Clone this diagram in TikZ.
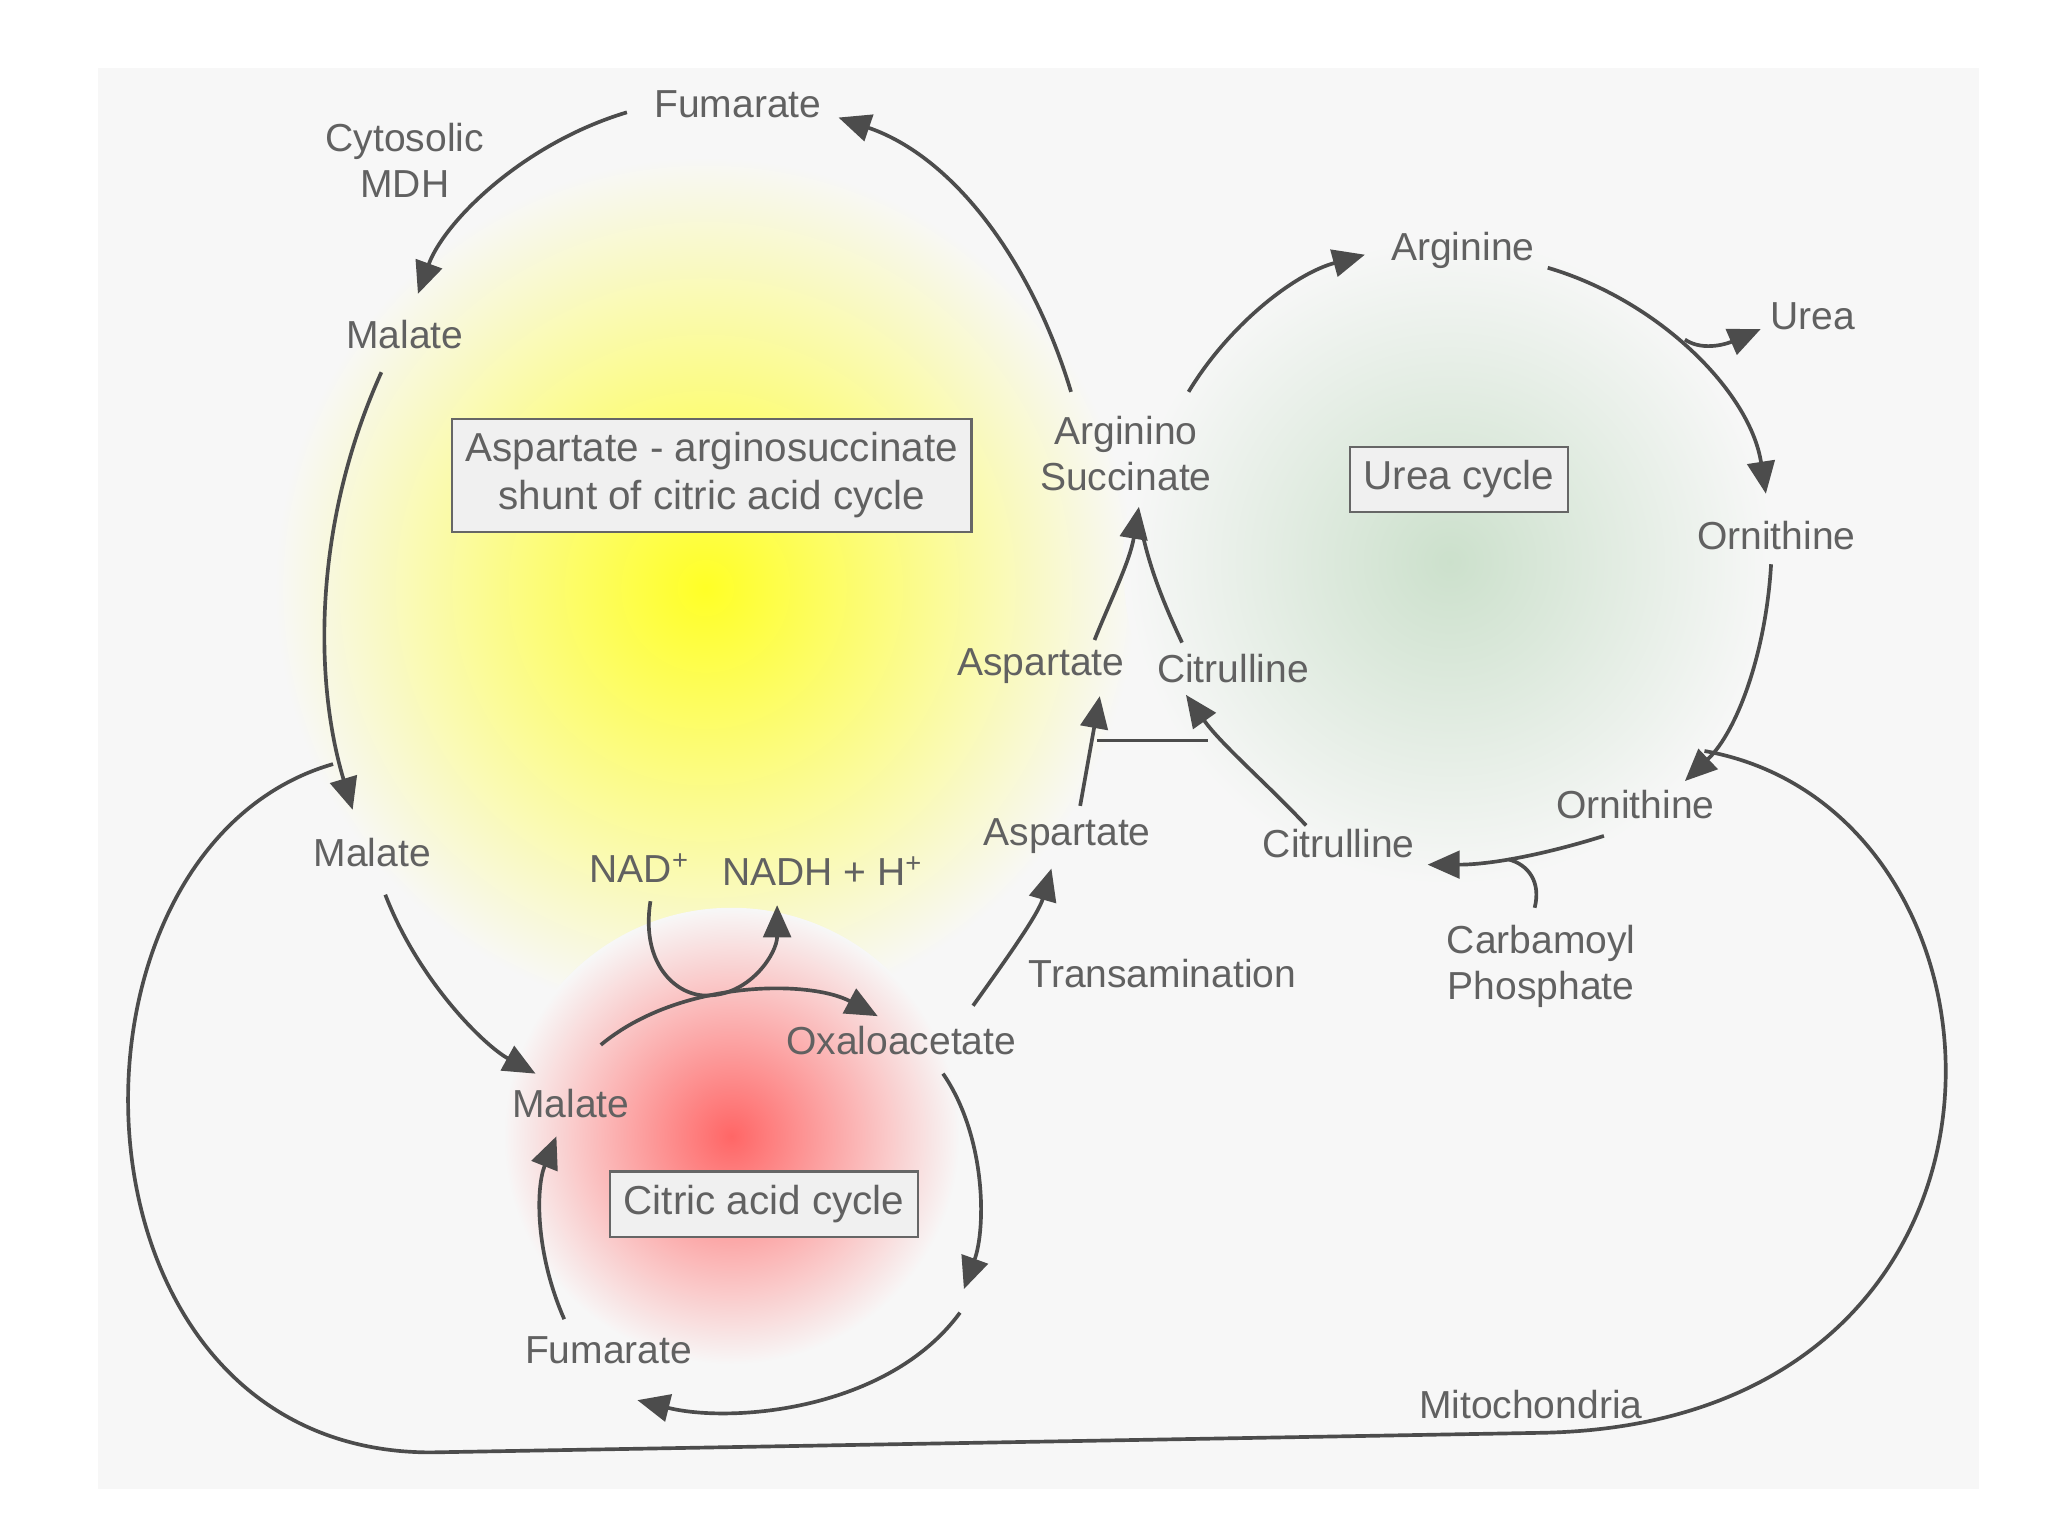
\documentclass[tikz,border=0pt]{standalone}
\usepackage{fontspec}
\setmainfont{Liberation Sans}
\usetikzlibrary{arrows.meta}
\begin{document}
\begin{tikzpicture}[x=0.01cm,y=-0.01cm,
  txt/.style={text=black!62,font=\fontsize{8.5}{10}\selectfont,align=center,inner sep=1pt},
  box/.style={txt,draw=black!60,fill=black!6,line width=0.5pt,inner sep=3pt,font=\fontsize{8.8}{10.5}\selectfont},
  ln/.style={draw=black!70,line width=0.8pt},
  ar/.style={ln,-{Triangle[length=7pt,width=6pt]}}]
\useasboundingbox (0,0) rectangle (1568,1176);
\fill[black!3] (75,52) rectangle (1515,1140);
\shade[inner color=yellow!85,outer color=black!3] (540,450) circle (330);
\shade[inner color=green!40!black!20,outer color=black!3] (1110,430) circle (250);
\shade[inner color=red!60,outer color=black!3] (560,870) circle (175);
% mitochondria
\draw[ln] (255,585) .. controls (30,650) and (40,1112) .. (330,1112) -- (1180,1097) .. controls (1580,1090) and (1560,620) .. (1305,575);
% nodes
\node[txt] (fum1) at (565,80) {Fumarate};
\node[txt] (mdh) at (310,123) {Cytosolic\\MDH};
\node[txt] (mal1) at (310,256) {Malate};
\node[txt] (mal2) at (285,653) {Malate};
\node[txt] (mal3) at (437,845) {Malate};
\node[txt] (as) at (862,347) {Arginino\\Succinate};
\node[txt] (arg) at (1120,192) {Arginine};
\node[txt] (urea) at (1388,242) {Urea};
\node[txt] (orn1) at (1360,410) {Ornithine};
\node[txt] (orn2) at (1252,616) {Ornithine};
\node[txt] (cit2) at (1025,646) {Citrulline};
\node[txt] (cp) at (1180,740) {Carbamoyl\\Phosphate};
\node[txt] (asp1) at (797,510) {Aspartate};
\node[txt] (cit1) at (944,512) {Citrulline};
\node[txt] (asp2) at (817,640) {Aspartate};
\node[txt] (trans) at (890,745) {Transamination};
\node[txt] (oaa) at (690,797) {Oxaloacetate};
\node[txt] (fum2) at (466,1034) {Fumarate};
\node[txt] (nad) at (490,665) {NAD\textsuperscript{+}};
\node[txt] (nadh) at (630,667) {NADH + H\textsuperscript{+}};
\node[txt] (mito) at (1172,1075) {Mitochondria};
\node[box] (b1) at (545,364) {Aspartate - arginosuccinate\\shunt of citric acid cycle};
\node[box] (b2) at (1117,367) {Urea cycle};
\node[box] (b3) at (585,922) {Citric acid cycle};
% left shunt
\draw[ar] (480,86) .. controls (400,110) and (340,170) .. (320,225);
\draw[ar] (292,285) .. controls (240,400) and (240,520) .. (270,620);
\draw[ar] (295,685) .. controls (320,750) and (370,800) .. (410,822);
\draw[ar] (820,300) .. controls (790,200) and (730,120) .. (642,90);
% urea cycle
\draw[ar] (910,300) .. controls (940,250) and (990,210) .. (1045,195);
\draw[ar] (1185,205) .. controls (1270,230) and (1340,300) .. (1352,378);
\draw[ar] (1290,260) .. controls (1305,270) and (1325,262) .. (1348,252);
\draw[ar] (1356,432) .. controls (1352,500) and (1330,560) .. (1290,598);
\draw[ar] (1228,640) .. controls (1180,655) and (1140,662) .. (1093,662);
\draw[ln] (1175,695) .. controls (1180,675) and (1170,662) .. (1155,658);
\draw[ar] (1000,632) .. controls (970,600) and (935,570) .. (908,532);
\draw[ln] (840,567) -- (925,567);
\draw[ar] (827,617) -- (842,533);
\draw[ar] (838,490) .. controls (850,460) and (865,430) .. (872,388);
\draw[ln] (905,492) .. controls (890,460) and (878,430) .. (872,395);
% transamination
\draw[ar] (745,770) .. controls (770,735) and (795,700) .. (805,665);
% citric acid cycle
\draw[ar] (460,800) .. controls (520,750) and (620,750) .. (672,778);
\draw[ar] (722,822) .. controls (755,870) and (755,940) .. (738,987);
\draw[ar] (735,1005) .. controls (680,1080) and (560,1090) .. (488,1072);
\draw[ar] (432,1010) .. controls (410,960) and (410,910) .. (426,870);
\draw[ar] (498,690) .. controls (490,740) and (520,765) .. (545,762) .. controls (575,760) and (595,730) .. (595,693);
\end{tikzpicture}
\end{document}
